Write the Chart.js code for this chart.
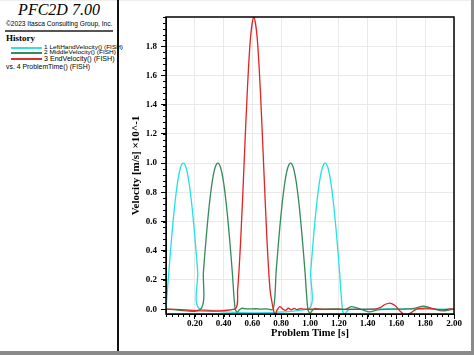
<!DOCTYPE html>
<html><head><meta charset="utf-8">
<script src="https://cdn.jsdelivr.net/npm/chart.js@4.4.0/dist/chart.umd.min.js"></script>
<style>
html,body{margin:0;padding:0;background:#fff;width:474px;height:355px;overflow:hidden;position:relative;font-family:"Liberation Sans",Arial,sans-serif;color:#000}
.t{position:absolute;white-space:nowrap;transform-origin:0 50%}
#vline{position:absolute;left:117px;top:0;width:2px;height:351px;background:#111}
#bottom{position:absolute;left:0;top:351px;width:474px;height:4px;background:#8a8a8a}
#right{position:absolute;left:471px;top:0;width:3px;height:355px;background:#8a8a8a}
#topline{position:absolute;left:0;top:0;width:471px;height:1px;background:#eeeeee}
#hr{position:absolute;left:5px;top:30px;width:108px;height:2px;background:#555}
.leg{position:absolute;left:11px;width:31px;height:2px}
#wrap{position:absolute;left:120px;top:0;width:350px;height:350px}
</style></head>
<body>
<div id="topline"></div>
<div class="t" style="left:0;width:118px;text-align:center;top:2px;font:italic 16px/16px 'Liberation Serif','Times New Roman',serif">PFC2D 7.00</div>
<div class="t" style="left:6px;top:20px;font:6.6px/7px 'Liberation Sans',Arial,sans-serif">©2023 Itasca Consulting Group, Inc.</div>
<div id="hr"></div>
<div class="t" style="left:6px;top:34px;font:bold 9px/9px 'Liberation Serif','Times New Roman',serif">History</div>
<div class="leg" style="top:47px;background:#33e0e0"></div>
<div class="t" style="left:44px;top:45px;font:5.3px/5.5px 'Liberation Sans',Arial,sans-serif;transform:scaleX(1.22)">1 LeftHandVelocity() (FISH)</div>
<div class="leg" style="top:52px;background:#3a8a5e"></div>
<div class="t" style="left:44px;top:50px;font:5.3px/5.5px 'Liberation Sans',Arial,sans-serif;transform:scaleX(1.22)">2 MiddleVelocity() (FISH)</div>
<div class="leg" style="top:58px;background:#d93030"></div>
<div class="t" style="left:44px;top:55.5px;font:7.1px/7px 'Liberation Sans',Arial,sans-serif">3 EndVelocity() (FISH)</div>
<div class="t" style="left:6px;top:62.5px;font:6.9px/7px 'Liberation Sans',Arial,sans-serif">vs. 4 ProblemTime() (FISH)</div>
<div id="vline"></div>
<div id="bottom"></div>
<div id="right"></div>
<div id="wrap"><canvas id="c" width="350" height="350"></canvas></div>
<script>
// Problem time samples and velocities (x10^-1 m/s)
const cyanT = [0, 0.02, 0.04, 0.06, 0.08, 0.10, 0.12, 0.14, 0.16, 0.18, 0.20, 0.22, 0.24,
  0.985, 1.005, 1.025, 1.045, 1.065, 1.085, 1.105, 1.125, 1.145, 1.165, 1.185, 1.205, 1.225,
  1.24, 1.26, 1.28, 2.0];
const cyanV = [0, 0.259, 0.5, 0.707, 0.866, 0.966, 1.0, 0.966, 0.866, 0.707, 0.5, 0.259, 0,
  0, 0.259, 0.5, 0.707, 0.866, 0.966, 1.0, 0.966, 0.866, 0.707, 0.5, 0.259, 0,
  -0.035, -0.01, 0, 0];

const greenT = [0, 0.24, 0.26, 0.28, 0.30, 0.32, 0.34, 0.36, 0.38, 0.40, 0.42, 0.44, 0.46, 0.48,
  0.495, 0.51, 0.525, 0.545, 0.58, 0.62, 0.66, 0.70, 0.745,
  0.765, 0.785, 0.805, 0.825, 0.845, 0.865, 0.885, 0.905, 0.925, 0.945, 0.965, 0.985,
  1.0, 1.015, 1.03, 1.05, 1.1, 1.2, 1.25,
  1.29, 1.35, 1.41, 1.47, 1.55, 1.65, 1.72, 1.79, 1.86, 1.92, 1.97, 2.0];
const greenV = [0, 0, 0.259, 0.5, 0.707, 0.866, 0.966, 1.0, 0.966, 0.866, 0.707, 0.5, 0.259, 0,
  -0.02, -0.004, 0.006, 0.004, 0.002, 0.003, 0.001, 0.002, 0,
  0.259, 0.5, 0.707, 0.866, 0.966, 1.0, 0.966, 0.866, 0.707, 0.5, 0.259, 0,
  -0.03, -0.01, 0.004, 0.003, 0.001, 0.002, 0,
  0.018, 0, -0.018, -0.005, 0, 0.001, 0.005, 0.02, 0.002, -0.012, -0.004, 0];

const redT = [0, 0.475, 0.4975, 0.52, 0.5425, 0.565, 0.5875, 0.61, 0.6325, 0.655, 0.6775, 0.70, 0.7225, 0.745,
  0.757, 0.772, 0.79, 0.81, 0.83, 0.85, 0.87, 0.89, 0.91, 0.93, 0.96,
  1.45, 1.49, 1.52, 1.555, 1.59, 1.625, 1.665, 1.70, 1.74, 1.78, 1.83, 1.88, 1.93, 1.97, 2.0];
const redV = [0, 0, 0.134, 0.5, 1.0, 1.5, 1.866, 2.0, 1.866, 1.5, 1.0, 0.5, 0.134, 0,
  -0.04, -0.005, 0.018, 0.002, -0.008, 0.007, -0.005, 0.006, -0.003, 0.004, 0,
  0, 0.012, 0.032, 0.042, 0.025, -0.012, -0.042, -0.025, 0, 0.006, 0.006, -0.002, -0.004, 0.002, 0];

const xTicks = [0.2, 0.4, 0.6, 0.8, 1.0, 1.2, 1.4, 1.6, 1.8, 2.0];
const yTicks = [0.0, 0.2, 0.4, 0.6, 0.8, 1.0, 1.2, 1.4, 1.6, 1.8];

const pts = (t, v) => t.map((x, i) => ({x: x, y: v[i]}));
const serif = "'Liberation Serif','Times New Roman',serif";

const frame = {
  id: 'frame',
  afterDraw(chart) {
    const {ctx, chartArea: a, scales: {x, y}} = chart;
    ctx.save();
    ctx.strokeStyle = '#000';
    ctx.lineWidth = 1;
    ctx.beginPath();
    for (let i = 0; i <= 50; i++) {
      const px = Math.round(x.getPixelForValue(i * 0.04)) + 0.5;
      ctx.moveTo(px, a.bottom); ctx.lineTo(px, a.bottom + 3);
    }
    for (let i = 0; i <= 50; i++) {
      const v = i * 0.04;
      if (v > y.max) break;
      const py = Math.round(y.getPixelForValue(v)) + 0.5;
      ctx.moveTo(a.left, py); ctx.lineTo(a.left - 3, py);
    }
    ctx.stroke();
    ctx.lineWidth = 1.5;
    ctx.strokeRect(a.left, a.top, a.right - a.left, a.bottom - a.top);
    ctx.restore();
  }
};

new Chart(document.getElementById('c'), {
  type: 'line',
  data: {
    datasets: [
      {data: pts(cyanT, cyanV), borderColor: '#22e3e3', order: 3},
      {data: pts(greenT, greenV), borderColor: '#358a5c', order: 2},
      {data: pts(redT, redV), borderColor: '#e02525', order: 1}
    ]
  },
  options: {
    responsive: false,
    animation: false,
    events: [],
    layout: {padding: {top: 17, right: 16, left: 0, bottom: 0}},
    elements: {
      point: {radius: 0},
      line: {borderWidth: 1.3, tension: 0.3, fill: false}
    },
    plugins: {legend: {display: false}, tooltip: {enabled: false}},
    scales: {
      x: {
        type: 'linear', min: 0, max: 2.0,
        afterBuildTicks: s => { s.ticks = xTicks.map(v => ({value: v})); },
        afterFit: s => { s.height = 36; },
        grid: {color: '#e9e9e9', tickColor: '#000', tickLength: 5, drawTicks: true},
        border: {color: '#000', width: 1},
        ticks: {color: '#000', padding: -1, maxRotation: 0, autoSkip: false,
          font: {family: serif, size: 9, weight: 'bold'},
          callback: v => Number(v).toFixed(2)},
        title: {display: true, text: 'Problem Time [s]', color: '#000',
          font: {family: serif, size: 10.5, weight: 'bold'}, padding: {top: 0, bottom: 10}}
      },
      y: {
        type: 'linear', min: -0.033, max: 2.0,
        afterBuildTicks: s => { s.ticks = yTicks.map(v => ({value: v})); },
        afterFit: s => { s.width = 46; },
        grid: {color: '#e9e9e9', tickColor: '#000', tickLength: 5, drawTicks: true},
        border: {color: '#000', width: 1},
        ticks: {color: '#000', padding: 4, autoSkip: false,
          font: {family: serif, size: 9, weight: 'bold'},
          callback: v => Number(v).toFixed(1)},
        title: {display: true, text: 'Velocity [m/s] ×10^-1', color: '#000',
          font: {family: serif, size: 11, weight: 'bold'}, padding: {top: 10, bottom: 0}}
      }
    }
  },
  plugins: [frame]
});
</script>
</body></html>
